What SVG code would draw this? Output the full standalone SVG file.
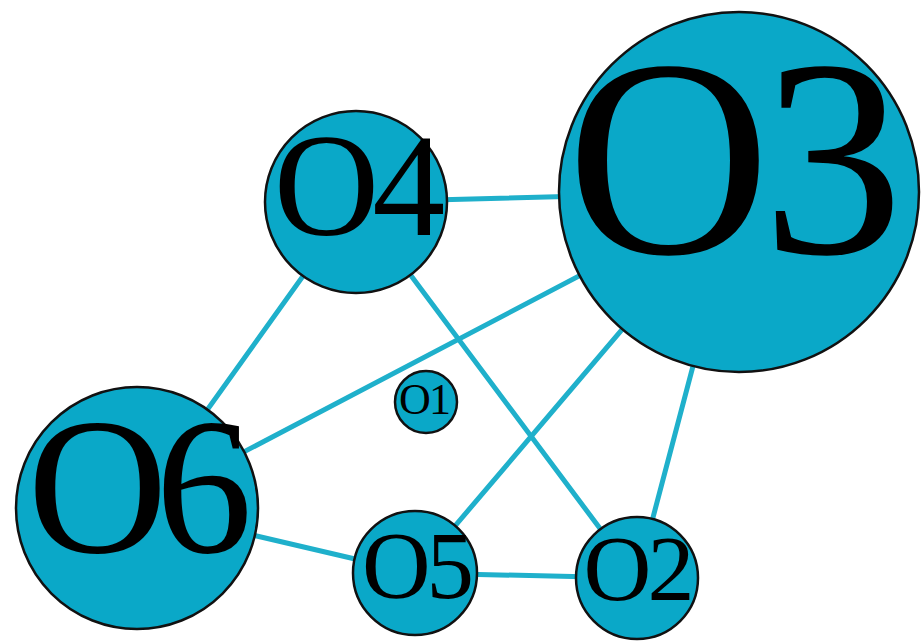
<svg xmlns="http://www.w3.org/2000/svg" width="924" height="644" viewBox="0 0 924 644">
<style>
.edge{stroke:#1fb0cb;stroke-width:5;fill:none;stroke-linecap:round}
.node circle{fill:#0aa8c8;stroke:#111;stroke-width:2.5}
.node text{font-family:"Liberation Serif","Times New Roman",serif;fill:#000;text-anchor:middle}
</style>
<rect width="924" height="644" fill="#fff"/>
<g id="edges">
<line class="edge" x1="356" y1="202" x2="739" y2="192"/>
<line class="edge" x1="356" y1="202" x2="137" y2="508"/>
<line class="edge" x1="356" y1="202" x2="637" y2="578"/>
<line class="edge" x1="739" y1="192" x2="137" y2="508"/>
<line class="edge" x1="739" y1="192" x2="415" y2="573"/>
<line class="edge" x1="739" y1="192" x2="637" y2="578"/>
<line class="edge" x1="137" y1="508" x2="415" y2="573"/>
<line class="edge" x1="415" y1="573" x2="637" y2="578"/>
</g>
<g id="node-O3" class="node"><circle cx="739" cy="192" r="180"/><text x="731" y="253" font-size="282" letter-spacing="-8">O3</text></g>
<g id="node-O4" class="node"><circle cx="356" cy="202" r="91"/><text x="356" y="235" font-size="146" letter-spacing="-7">O4</text></g>
<g id="node-O6" class="node"><circle cx="137" cy="508" r="121"/><text x="134" y="552" font-size="194" letter-spacing="-12">O6</text></g>
<g id="node-O1" class="node"><circle cx="426" cy="402" r="31"/><text x="424" y="414" font-size="44" letter-spacing="-2">O1</text></g>
<g id="node-O5" class="node"><circle cx="415" cy="573" r="62"/><text x="416" y="598" font-size="95" letter-spacing="-4">O5</text></g>
<g id="node-O2" class="node"><circle cx="637" cy="578" r="61"/><text x="637" y="600" font-size="94" letter-spacing="-4">O2</text></g>
</svg>
